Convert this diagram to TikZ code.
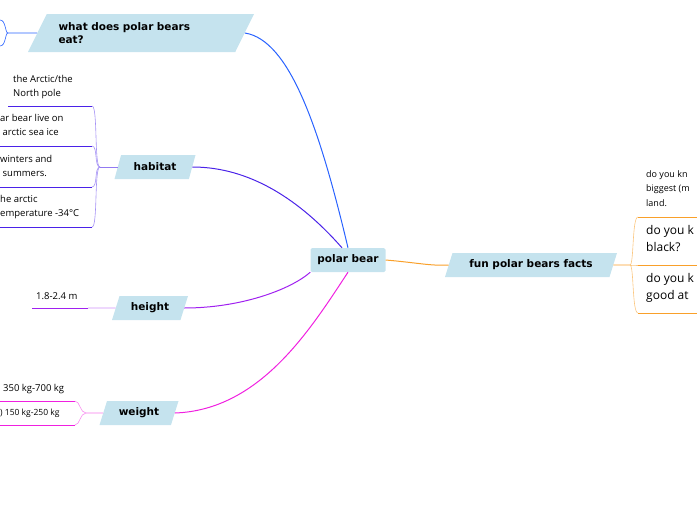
\documentclass[tikz,border=0pt]{standalone}
\usepackage{fontspec}
\setmainfont{Open Sans}
\newfontfamily\topicfont{DejaVu Sans}
\usetikzlibrary{shapes.geometric}
\definecolor{nodefill}{HTML}{C5E3EE}
\definecolor{cBlue}{HTML}{2962FF}
\definecolor{cHab}{HTML}{4A22E8}
\definecolor{cHei}{HTML}{A020F0}
\definecolor{cWei}{HTML}{F020E0}
\definecolor{cFun}{HTML}{F9A02A}
\tikzset{
 topic/.style={trapezium, trapezium left angle=66, trapezium right angle=114, fill=nodefill, minimum height=24pt, inner xsep=0pt, font=\topicfont\bfseries\fontsize{10.5}{13}\selectfont, text=black, trapezium stretches body},
 central/.style={rectangle, rounded corners=1.5pt, fill=nodefill, minimum height=24pt, minimum width=75pt, inner xsep=2pt, font=\topicfont\bfseries\fontsize{10.5}{13}\selectfont},
 leaf/.style={anchor=north west, align=left, inner sep=0pt, font=\fontsize{9.5}{14.5}\selectfont},
 conn/.style={line width=1pt},
 thin/.style={line width=0.6pt},
}
\begin{document}
\begin{tikzpicture}[x=1pt,y=-1pt]
\useasboundingbox (0,0) rectangle (697,520);
\clip (0,0) rectangle (697,520);
% nodes
\node[central] (pb) at (348,260) {polar bear};
\node[topic, minimum height=38pt, minimum width=226pt, text width=165pt, align=left, trapezium left angle=56, trapezium right angle=124] (eat) at (141,33) {what does polar bears\\eat?};
\node[topic, minimum width=81pt] (hab) at (155,167) {habitat};
\node[topic, minimum width=76pt] (hei) at (150,308) {height};
\node[topic, minimum width=79pt] (wei) at (139,413) {weight};
\node[topic, minimum width=172pt] (fun) at (531,265) {fun polar bears facts};
% main connectors
\draw[conn, cBlue] (pb.north) .. controls (320,130) and (290,40) .. (eat.east);
\draw[conn, cHab] (pb.north) ++(-6,0) coordinate (pbh) (hab.east) .. controls (250,167) and (300,200) .. (pbh);
\draw[conn, cHei] (hei.east) .. controls (240,308) and (290,290) .. (pb.south west);
\draw[conn, cWei] (wei.east) .. controls (260,410) and (310,330) .. (pb.south);
\draw[conn, cFun] (pb.east) .. controls (420,263) and (430,266) .. (fun.west);
% eat leaves
\coordinate (e0) at (8,33);
\draw[thin,cBlue] (eat.west) -- (e0);
\coordinate (e1) at (0,20);\coordinate (e2) at (0,46);
\draw[thin,cBlue] (e0) .. controls (5,33) and (6,20) .. (e1);
\draw[thin,cBlue] (e0) .. controls (5,33) and (6,46) .. (e2);
% habitat leaves
\coordinate (h0) at (100,167);
\draw[thin,cHab!60] (hab.west) -- (h0);
\foreach \y/\xs [count=\i] in {106/8,146/0,187/0,227/0}{
  \coordinate (hl\i) at (92,\y);
  \draw[thin,cHab!50] (h0) .. controls (94,167) and (98,\y) .. (hl\i);
  \draw[conn,cHab] (hl\i) -- (\xs,\y);
}
\node[leaf] (t1) at (13,75) {the Arctic/the\\North pole};
\node[leaf] (t2) at (0,114) {ar bear live on\\\ arctic sea ice};
\node[leaf] (t3) at (0,155) {winters and\\\ summers.};
\node[leaf] (t4) at (0,195) {he arctic\\emperature -34°C};
% height leaf
\coordinate (hh) at (88,308);
\draw[thin,cHei!50] (hei.west) -- (hh);
\draw[conn,cHei] (hh) -- (32,308);
\node[leaf] (t5) at (36,292) {1.8-2.4 m};
% weight leaves
\coordinate (w0) at (86,413);
\draw[thin,cWei!60] (wei.west) -- (w0);
\foreach \y [count=\i] in {401,425}{
  \coordinate (wl\i) at (75,\y);
  \draw[thin,cWei!50] (w0) .. controls (80,413) and (80,\y) .. (wl\i);
  \draw[conn,cWei] (wl\i) -- (0,\y);
}
\node[leaf] (t6) at (3,384) {350 kg-700 kg};
\node[leaf, font=\fontsize{8.5}{12}\selectfont] (t7) at (0,409) {) 150 kg-250 kg};
% fun leaves
\coordinate (f0) at (630,265);
\draw[thin,cFun] (fun.east) -- (f0);
\foreach \y [count=\i] in {217,265,313}{
  \coordinate (fl\i) at (638,\y);
  \draw[thin,cFun!60] (f0) .. controls (634,265) and (632,\y) .. (fl\i);
  \draw[conn,cFun] (fl\i) -- (697,\y);
}
\node[leaf, font=\fontsize{9}{14.5}\selectfont] (t8) at (646,170) {do you kn\\biggest (m\\land.};
\node[leaf, font=\fontsize{12}{17.5}\selectfont] (t9) at (646,225) {do you k\\black?};
\node[leaf, font=\fontsize{12}{17.5}\selectfont] (t10) at (646,273) {do you k\\good at};
\end{tikzpicture}
\end{document}
